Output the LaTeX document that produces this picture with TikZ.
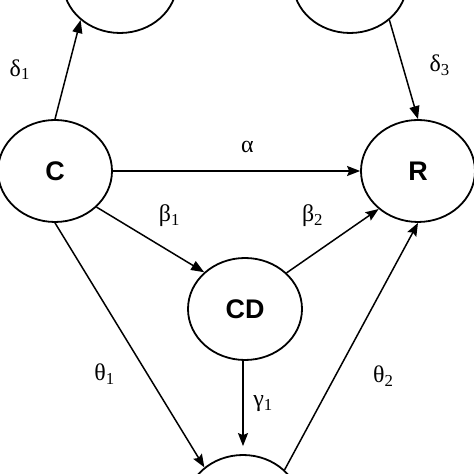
\documentclass[tikz,border=0pt]{standalone}
\usepackage{fontspec}
\setmainfont{Liberation Serif}
\setsansfont{Liberation Sans}
\usetikzlibrary{arrows.meta,shapes.geometric}

\begin{document}
\begin{tikzpicture}[
    x=1bp, y=1bp,
    var/.style={draw, ellipse, line width=1.8bp, minimum width=114bp, minimum height=102bp, inner sep=0pt, font=\fontsize{27}{32}\selectfont\sffamily\bfseries},
    arr/.style={-{Triangle[length=13bp, width=10bp]}, line width=1.5bp},
    arrs/.style={-{Stealth[length=13bp, width=10bp, inset=2bp]}, line width=1.5bp},
    coef/.style={font=\fontsize{24}{28}\selectfont},
]
    \useasboundingbox (0,0) rectangle (474,474);
    \clip (0,0) rectangle (474,474);

    \node[var] (tl) at (120, 492) {};
    \node[var] (tr) at (350, 492) {};
    \node[var] (c)  at (55, 303) {C};
    \node[var] (r)  at (418, 303) {R};
    \node[var] (cd) at (245, 165) {CD};
    \node[var] (b)  at (243, -32) {};

    \draw[arr] (c.north) -- node[coef, xshift=-48bp]{δ\textsubscript{1}} (tl.224);
    \draw[arr] (tr.-44) -- node[coef, xshift=36bp, yshift=4bp]{δ\textsubscript{3}} (r.north);
    \draw[arrs] (c.east) -- node[coef, xshift=11bp, yshift=24bp]{α} (r.west);
    \draw[arr] (c.-41) -- node[coef, xshift=19bp, yshift=24bp]{β\textsubscript{1}} (cd.138);
    \draw[arrs] (cd.41) -- node[coef, xshift=-20bp, yshift=25bp]{β\textsubscript{2}} (r.224);
    \draw[arrs] (c.south) -- node[coef, pos=0.62, xshift=-43bp]{θ\textsubscript{1}} (b.135);
    \draw[arrs] (b.41) -- node[coef, pos=0.38, xshift=48bp]{θ\textsubscript{2}} (r.south);
    \draw[arrs, shorten >=8bp] (cd.south -| b.north) -- node[coef, pos=0.46, xshift=20bp]{γ\textsubscript{1}} (b.north);
\end{tikzpicture}
\end{document}
